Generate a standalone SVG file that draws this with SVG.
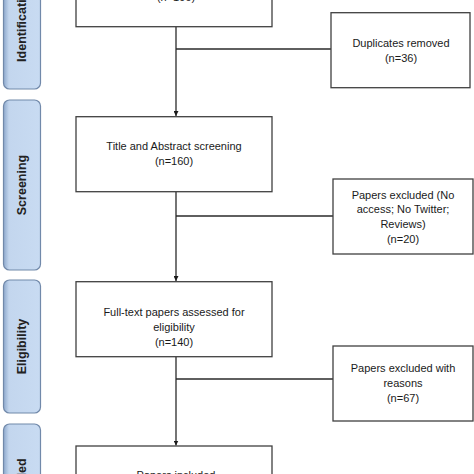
<svg xmlns="http://www.w3.org/2000/svg" width="474" height="474" viewBox="0 0 474 474">
<defs>
<marker id="arr" viewBox="0 0 10 10" refX="10" refY="5" markerWidth="5" markerHeight="5" markerUnits="userSpaceOnUse" orient="auto">
<path d="M0,0 L10,5 L0,10 z" fill="#1a1a1a"/>
</marker>
<linearGradient id="side" x1="0" y1="0" x2="1" y2="0">
<stop offset="0" stop-color="#8ea9cc"/>
<stop offset="0.15" stop-color="#c3d6ee"/>
<stop offset="1" stop-color="#c8dbf2"/>
</linearGradient>
</defs>
<style>
.box{fill:#ffffff;stroke:#404040;stroke-width:1.3}
.lab{fill:url(#side);stroke:#7189aa;stroke-width:1.2}
.t{font-family:"Liberation Sans",Arial,sans-serif;font-size:11px;fill:#1a1a1a;text-anchor:middle}
.s{font-family:"Liberation Sans",Arial,sans-serif;font-size:12.5px;font-weight:bold;fill:#222222;text-anchor:middle}
.ln{stroke:#2a2a2a;stroke-width:1.3;fill:none}
</style>
<rect width="474" height="474" fill="#ffffff"/>
<g id="lab-identification">
<rect class="lab" x="3.5" y="-50" width="37" height="139" rx="6"/>
<text class="s" transform="translate(26,23) rotate(-90)">Identification</text>
</g>
<g id="lab-screening">
<rect class="lab" x="3.5" y="100" width="37" height="170" rx="6"/>
<text class="s" transform="translate(26,185) rotate(-90)">Screening</text>
</g>
<g id="lab-eligibility">
<rect class="lab" x="3.5" y="280" width="37" height="133" rx="6"/>
<text class="s" transform="translate(26,346.5) rotate(-90)">Eligibility</text>
</g>
<g id="lab-included">
<rect class="lab" x="3.5" y="424" width="37" height="120" rx="6"/>
<text class="s" transform="translate(26,484) rotate(-90)">Included</text>
</g>
<g id="connectors">
<line class="ln" x1="176" y1="26.7" x2="176" y2="116" marker-end="url(#arr)"/>
<line class="ln" x1="176" y1="49" x2="331" y2="49"/>
<line class="ln" x1="176" y1="191.7" x2="176" y2="281" marker-end="url(#arr)"/>
<line class="ln" x1="176" y1="216" x2="333" y2="216"/>
<line class="ln" x1="176" y1="356.7" x2="176" y2="445.5" marker-end="url(#arr)"/>
<line class="ln" x1="176" y1="379" x2="333" y2="379"/>
</g>
<g id="n-identified">
<rect class="box" x="76" y="-40" width="196" height="66.7"/>
<text class="t" x="176" y="1">(n=196)</text>
</g>
<g id="n-duplicates">
<rect class="box" x="331" y="12.7" width="139" height="75"/>
<text class="t" x="401" y="47">Duplicates removed</text>
<text class="t" x="401" y="62">(n=36)</text>
</g>
<g id="n-screening">
<rect class="box" x="76" y="116.7" width="196" height="75"/>
<text class="t" x="174" y="150">Title and Abstract screening</text>
<text class="t" x="174" y="165">(n=160)</text>
</g>
<g id="n-excluded1">
<rect class="box" x="333" y="179" width="140" height="75"/>
<text class="t" x="403" y="199">Papers excluded (No</text>
<text class="t" x="403" y="213">access; No Twitter;</text>
<text class="t" x="403" y="228">Reviews)</text>
<text class="t" x="403" y="243">(n=20)</text>
</g>
<g id="n-fulltext">
<rect class="box" x="76" y="281.7" width="196" height="75"/>
<text class="t" x="174" y="316">Full-text papers assessed for</text>
<text class="t" x="174" y="330.5">eligibility</text>
<text class="t" x="174" y="345.5">(n=140)</text>
</g>
<g id="n-excluded2">
<rect class="box" x="333" y="346" width="140" height="75"/>
<text class="t" x="403" y="372">Papers excluded  with</text>
<text class="t" x="403" y="387">reasons</text>
<text class="t" x="403" y="402">(n=67)</text>
</g>
<g id="n-included">
<rect class="box" x="76" y="446" width="196" height="75"/>
<text class="t" x="176" y="479">Papers included</text>
</g>
</svg>
